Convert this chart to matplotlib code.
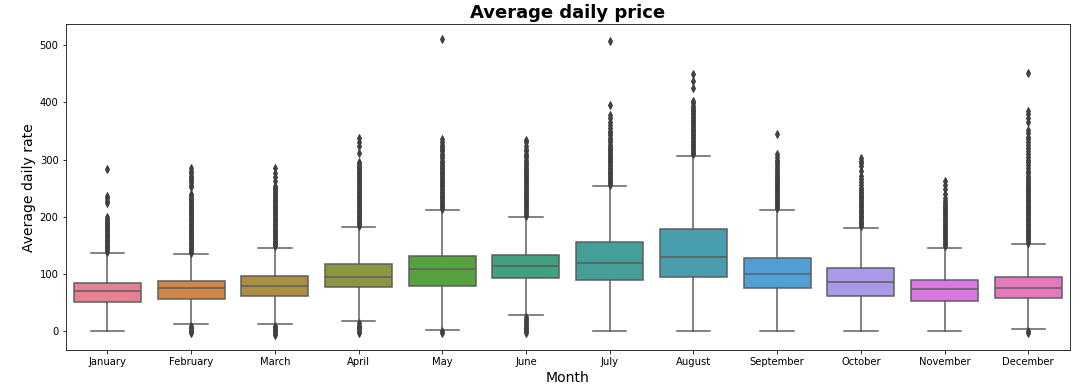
import matplotlib
matplotlib.use("Agg")
import matplotlib.pyplot as plt
import seaborn as sns
import colorsys

months = ["January", "February", "March", "April", "May", "June", "July",
          "August", "September", "October", "November", "December"]
q1 = [50.5, 56.3, 61.0, 77.2, 80.1, 93.0, 89.4, 94.6, 75.5, 61.5, 52.3, 58.0]
medians = [70.2, 75.5, 79.0, 95.8, 109.2, 115.0, 119.0, 130.7, 99.9, 86.0, 73.8, 75.5]
q3 = [84.2, 87.7, 96.4, 118.5, 132.4, 134.0, 155.6, 179.4, 128.9, 109.8, 89.4, 95.8]
whisker_low = [0.0, 12.8, 12.8, 18.0, 2.3, 28.5, 0.0, 0.0, 0.0, 0.0, 0.0, 4.0]
whisker_high = [136.5, 134.8, 146.3, 181.7, 211.4, 199.0, 253.0, 306.6, 212.5, 181.0, 146.3, 152.0]

fliers = [
    [139, 142, 145, 148, 151, 154, 157, 160, 163, 166, 169, 172, 175, 178, 181, 184, 187,
     190, 193, 196, 200, 224, 228, 232, 236, 283],
    [-3, 0, 3, 6, 9, 137, 140, 143, 146, 149, 152, 155, 158, 161, 164, 167, 170, 173, 176,
     179, 182, 185, 188, 191, 194, 197, 200, 203, 206, 209, 212, 215, 218, 221, 224, 227,
     230, 233, 236, 240, 252, 256, 260, 264, 268, 272, 276, 280, 285],
    [-7, -4, -1, 2, 5, 8, 10, 149, 152, 155, 158, 161, 164, 167, 170, 173, 176, 179, 182,
     185, 188, 191, 194, 197, 200, 203, 206, 209, 212, 215, 218, 221, 224, 227, 230, 233,
     236, 239, 242, 245, 248, 251, 254, 262, 270, 277, 285],
    [-2, 1, 4, 7, 10, 14, 184, 187, 190, 193, 196, 199, 202, 205, 208, 211, 214, 217, 220,
     223, 226, 229, 232, 235, 238, 241, 244, 247, 250, 253, 256, 259, 262, 265, 268, 271,
     274, 277, 280, 283, 286, 289, 293, 296, 312, 324, 331, 337],
    [-3, 0, 214, 217, 220, 223, 226, 229, 232, 235, 238, 241, 244, 247, 250, 253, 256, 259,
     262, 265, 268, 271, 274, 277, 280, 283, 286, 289, 292, 295, 298, 302, 306, 310, 314,
     318, 322, 326, 330, 335, 510],
    [-3, 0, 3, 6, 9, 12, 15, 18, 22, 26, 202, 205, 208, 211, 214, 217, 220, 223, 226, 229,
     232, 235, 238, 241, 244, 247, 250, 253, 256, 259, 262, 265, 268, 271, 274, 277, 280,
     283, 286, 289, 292, 295, 298, 302, 306, 310, 314, 318, 324, 330, 334],
    [256, 259, 262, 265, 268, 271, 274, 277, 280, 283, 286, 289, 292, 295, 298, 301, 304,
     307, 310, 313, 316, 319, 322, 326, 330, 334, 338, 342, 346, 350, 355, 360, 366, 372,
     378, 396, 507],
    [309, 312, 315, 318, 321, 324, 327, 330, 333, 336, 339, 342, 345, 348, 351, 354, 357,
     360, 363, 366, 369, 372, 375, 378, 381, 384, 387, 390, 394, 398, 403, 425, 437, 450],
    [215, 218, 221, 224, 227, 230, 233, 236, 239, 242, 245, 248, 251, 254, 257, 260, 263,
     266, 269, 272, 275, 278, 281, 284, 288, 292, 296, 300, 305, 309, 344],
    [184, 187, 190, 193, 196, 199, 202, 205, 208, 211, 214, 217, 220, 223, 226, 229, 232,
     235, 238, 241, 244, 247, 250, 255, 260, 266, 272, 280, 288, 294, 298, 302],
    [149, 152, 155, 158, 161, 164, 167, 170, 173, 176, 179, 182, 185, 188, 191, 194, 197,
     200, 203, 206, 209, 212, 215, 218, 221, 224, 228, 232, 240, 248, 255, 262],
    [-3, 0, 155, 158, 161, 164, 167, 170, 173, 176, 179, 182, 185, 188, 191, 194, 197, 200,
     203, 206, 209, 212, 215, 218, 221, 224, 227, 230, 233, 236, 239, 242, 245, 248, 251,
     254, 257, 260, 264, 268, 272, 276, 280, 285, 290, 295, 300, 305, 310, 315, 320, 325,
     330, 335, 340, 346, 352, 365, 372, 380, 385, 451],
]

palette = [sns.desaturate(c, 0.75) for c in sns.color_palette("husl", len(months))]
lum = min(colorsys.rgb_to_hls(*c)[1] for c in palette)
gray = (lum * 0.6,) * 3
line_gray = "#5c5c5c"

stats = []
for i, m in enumerate(months):
    stats.append(dict(label=m, med=medians[i], q1=q1[i], q3=q3[i],
                      whislo=whisker_low[i], whishi=whisker_high[i], fliers=fliers[i]))

fig, ax = plt.subplots(figsize=(1092 / 72, 387 / 72), dpi=72)
bp = ax.bxp(stats, positions=range(len(months)), widths=0.8, patch_artist=True,
            boxprops=dict(edgecolor=line_gray, linewidth=1.5),
            whiskerprops=dict(color=line_gray, linewidth=1.5),
            capprops=dict(color=line_gray, linewidth=1.5),
            medianprops=dict(color=line_gray, linewidth=1.5),
            flierprops=dict(marker="d", markerfacecolor=gray, markeredgecolor=gray,
                            markersize=5, linestyle="none"))
for patch, c in zip(bp["boxes"], palette):
    patch.set_facecolor(c)
for cap in bp["caps"]:
    x = cap.get_xdata()
    mid = (x[0] + x[1]) / 2
    cap.set_xdata([mid - 0.2, mid + 0.2])

ax.set_xlim(-0.5, len(months) - 0.5)
ax.set_xticks(range(len(months)))
ax.set_xticklabels(months)
ax.set_title("Average daily price", fontsize=18, fontweight="bold")
ax.set_xlabel("Month", fontsize=14)
ax.set_ylabel("Average daily rate", fontsize=14)
fig.subplots_adjust(left=0.06, right=0.98, top=0.937, bottom=0.095)
fig.savefig("out.png", dpi=72)
